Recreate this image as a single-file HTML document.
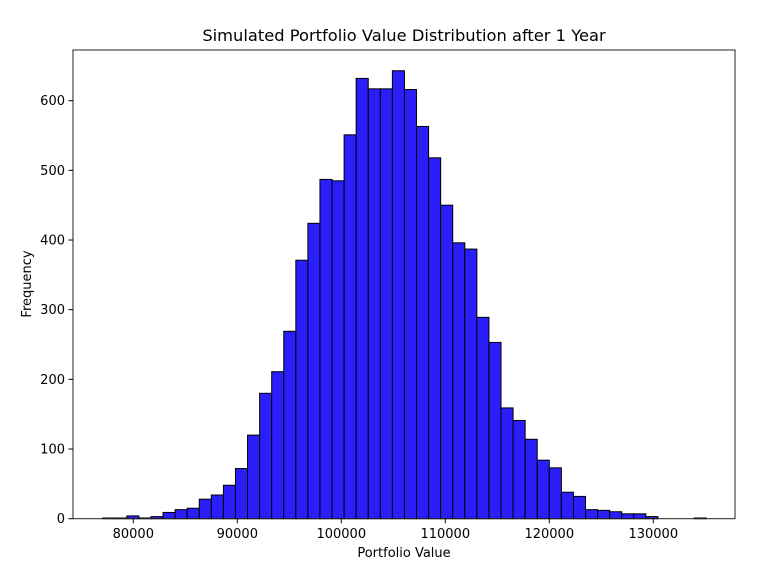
<!DOCTYPE html>
<html><head><meta charset="utf-8"><style>body{margin:0;background:#fff}svg{display:block}</style></head>
<body>
<svg width="768" height="575" xmlns="http://www.w3.org/2000/svg" font-family="DejaVu Sans, Liberation Sans, sans-serif">
<rect width="768" height="575" fill="#fff"/>
<g id="bars" fill="#2a1ffa" stroke="#000" stroke-width="1"></g>
<rect x="73" y="50" width="662" height="468.7" fill="none" stroke="#222" stroke-width="1"/>
<g id="ticks" stroke="#000" stroke-width="1"></g>
<g id="labels" font-size="13" fill="#000"></g>
<text x="404" y="41" font-size="16.3" text-anchor="middle">Simulated Portfolio Value Distribution after 1 Year</text>
<text x="404" y="557" font-size="13" text-anchor="middle">Portfolio Value</text>
<text transform="translate(31,284) rotate(-90)" font-size="13" text-anchor="middle">Frequency</text>
<script>
var h=[1,1,4,1,3,9,13,15,28,34,48,72,120,180,211,269,371,424,487,485,551,632,617,617,643,616,563,518,450,396,387,289,253,159,141,114,84,73,38,32,13,12,10,7,7,3,0,0,0,1];
var ns="http://www.w3.org/2000/svg",b=document.getElementById('bars'),t=document.getElementById('ticks'),l=document.getElementById('labels');
var y0=518.7,k=0.6967,x0=102.7,w=12.07;
h.forEach(function(v,i){if(!v)return;var r=document.createElementNS(ns,'rect');r.setAttribute('x',x0+i*w);r.setAttribute('width',w);r.setAttribute('y',y0-v*k);r.setAttribute('height',v*k);b.appendChild(r);});
for(var i=0;i<=6;i++){var y=y0-i*100*k;var ln=document.createElementNS(ns,'line');ln.setAttribute('x1',68.5);ln.setAttribute('x2',73);ln.setAttribute('y1',y);ln.setAttribute('y2',y);t.appendChild(ln);
var tx=document.createElementNS(ns,'text');tx.setAttribute('x',65);tx.setAttribute('y',y+4.5);tx.setAttribute('text-anchor','end');tx.textContent=i*100;l.appendChild(tx);}
for(var i=0;i<=5;i++){var x=133.3+i*104;var ln=document.createElementNS(ns,'line');ln.setAttribute('x1',x);ln.setAttribute('x2',x);ln.setAttribute('y1',518.7);ln.setAttribute('y2',523.2);t.appendChild(ln);
var tx=document.createElementNS(ns,'text');tx.setAttribute('x',x);tx.setAttribute('y',538);tx.setAttribute('text-anchor','middle');tx.textContent=80000+i*10000;l.appendChild(tx);}
</script>
</svg>
</body></html>
